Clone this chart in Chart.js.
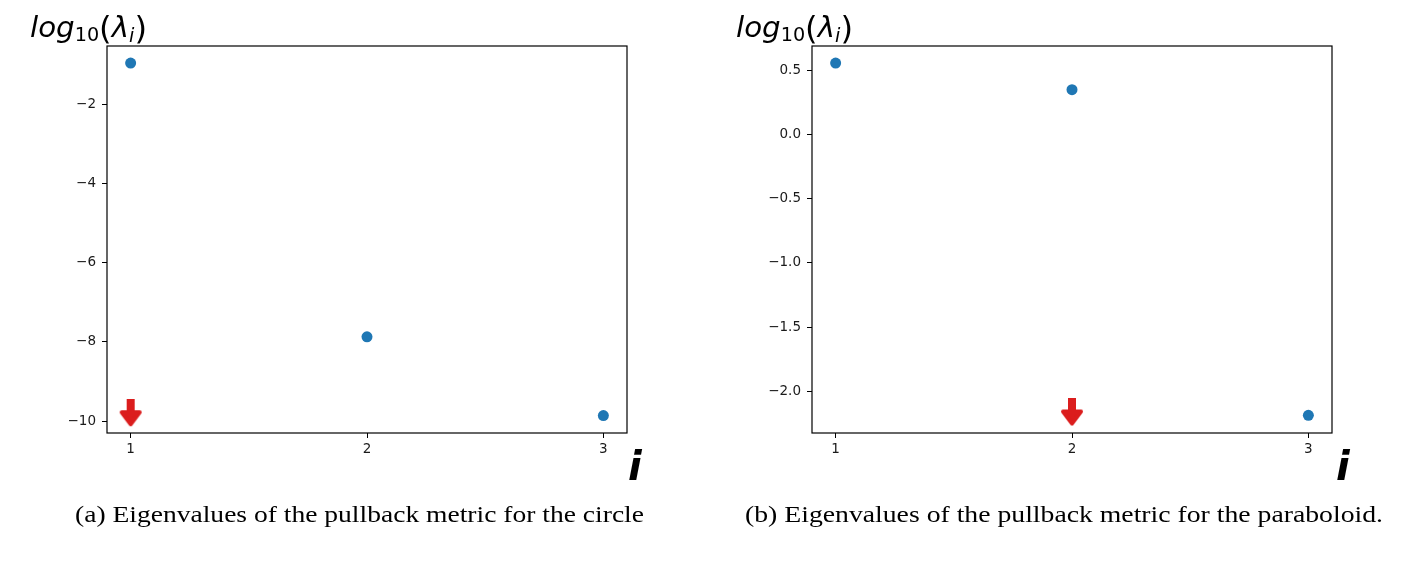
<!DOCTYPE html>
<html>
<head>
<meta charset="utf-8">
<script src="https://cdn.jsdelivr.net/npm/chart.js@4.4.1/dist/chart.umd.min.js"></script>
<style>
  body { margin: 0; background: #fff; }
  #wrap { position: relative; width: 1422px; height: 565px; }
  canvas { position: absolute; top: 0; }
</style>
</head>
<body>
<div id="wrap">
  <canvas id="circleChart" width="700" height="565" style="left:0px"></canvas>
  <canvas id="paraboloidChart" width="722" height="565" style="left:700px"></canvas>
</div>
<script>
'use strict'

// index i on the x axis
const eigIndex = [1, 2, 3]
const indexTicks = [1, 2, 3]

// (a) circle: log10 of the eigenvalues
const circleLogEig = [-0.95, -7.87, -9.86]
const circleTicks = [-10, -8, -6, -4, -2]
const circleArrowX = [1]
const circleArrowY = [-9.8]

// (b) paraboloid
const paraboloidLogEig = [0.557, 0.35, -2.187]
const paraboloidTicks = [-2.0, -1.5, -1.0, -0.5, 0.0, 0.5]
const paraboloidArrowX = [2]
const paraboloidArrowY = [-2.165]

const captionA = '(a) Eigenvalues of the pullback metric for the circle'
const captionB = '(b) Eigenvalues of the pullback metric for the paraboloid.'

const tickFont = { family: 'DejaVu Sans', size: 13.5 }

function fmtMinus(str) {
    return str.replace('-', '\u2212')
}

//red arrow used as a point style
function makeArrow() {
    let c = document.createElement('canvas')
    c.width = 24
    c.height = 28
    let g = c.getContext('2d')
    g.fillStyle = '#db1d1d'
    g.strokeStyle = '#db1d1d'
    g.fillRect(8, 0, 8, 15)
    g.lineJoin = 'round'
    g.lineWidth = 4
    g.beginPath()
    g.moveTo(3, 13)
    g.lineTo(21, 13)
    g.lineTo(12, 25)
    g.closePath()
    g.fill()
    g.stroke()
    return c
}
const arrowImg = makeArrow()

// y label log10(λi), stretched to the width seen in the figure
function drawYLabel(ctx, x, base, width) {
    let parts = [
        ['log', 'italic 29px "DejaVu Sans"', 0],
        ['10', '19px "DejaVu Sans"', 4],
        ['(', '32px "DejaVu Sans"', 2],
        ['\u03bb', 'italic 29px "DejaVu Sans"', 0],
        ['i', 'italic 19px "DejaVu Sans"', 5],
        [')', '32px "DejaVu Sans"', 2]
    ]
    let total = 0
    for (let p of parts) {
        ctx.font = p[1]
        total += ctx.measureText(p[0]).width
    }
    ctx.save()
    ctx.translate(x, base)
    ctx.scale(width / total, 1)
    ctx.fillStyle = '#000'
    ctx.textBaseline = 'alphabetic'
    let cx = 0
    for (let p of parts) {
        ctx.font = p[1]
        ctx.fillText(p[0], cx, p[2])
        cx += ctx.measureText(p[0]).width
    }
    ctx.restore()
}

function drawCaption(ctx, text, left, right, base) {
    ctx.save()
    ctx.font = '23px "Liberation Serif"'
    let w = ctx.measureText(text).width
    ctx.translate(left, base)
    ctx.scale((right - left) / w, 1)
    ctx.fillStyle = '#000'
    ctx.textBaseline = 'alphabetic'
    ctx.fillText(text, 0, 0)
    ctx.restore()
}

function makeChart(id, values, yMin, yMax, yTicks, digits, arrowX, arrowY, axisLeft, padRight, labelX, iX, caption, capLeft, capRight) {
    let ctx = document.getElementById(id).getContext('2d')

    let figText = {
        id: 'figText',
        afterDraw(chart) {
            let c = chart.ctx
            let a = chart.chartArea
            c.save()
            c.strokeStyle = '#000'
            c.lineWidth = 1.2
            c.strokeRect(a.left, a.top, a.right - a.left, a.bottom - a.top)
            c.restore()
            drawYLabel(c, labelX, 37, 117)
            c.save()
            c.font = 'italic bold 40px "DejaVu Sans"'
            c.fillStyle = '#000'
            c.fillText('i', iX, 480)
            c.restore()
            drawCaption(c, caption, capLeft, capRight, 522)
        }
    }

    return new Chart(ctx, {
        type: 'scatter',
        data: {
            datasets: [{
                label: 'log10(λi)',
                data: eigIndex.map((v, k) => ({ x: v, y: values[k] })),
                backgroundColor: '#1f77b4',
                borderWidth: 0,
                pointRadius: 5.5
            }, {
                label: 'arrow',
                data: arrowX.map((v, k) => ({ x: v, y: arrowY[k] })),
                pointStyle: arrowImg
            }]
        },
        options: {
            responsive: false,
            animation: false,
            layout: { padding: { top: 46, right: padRight, bottom: 85, left: 0 } },
            plugins: { legend: { display: false }, tooltip: { enabled: false } },
            scales: {
                x: {
                    type: 'linear',
                    min: 0.9,
                    max: 3.1,
                    afterBuildTicks: s => { s.ticks = indexTicks.map(v => ({ value: v })) },
                    afterFit: s => { s.height = 47 },
                    grid: { drawOnChartArea: false, drawTicks: true, tickLength: 5, color: '#000' },
                    border: { display: false },
                    ticks: { font: tickFont, color: '#1a1a1a', padding: 3, maxRotation: 0, callback: v => String(v) }
                },
                y: {
                    min: yMin,
                    max: yMax,
                    afterBuildTicks: s => { s.ticks = yTicks.map(v => ({ value: v })) },
                    afterFit: s => { s.width = axisLeft },
                    grid: { drawOnChartArea: false, drawTicks: true, tickLength: 5, color: '#000' },
                    border: { display: false },
                    ticks: { font: tickFont, color: '#1a1a1a', padding: 6, callback: v => fmtMinus(v.toFixed(digits)) }
                }
            }
        },
        plugins: [figText]
    })
}

let circleChart = makeChart('circleChart', circleLogEig, -10.3, -0.52, circleTicks, 0,
    circleArrowX, circleArrowY, 107, 73, 30, 628, captionA, 75, 644)

let paraboloidChart = makeChart('paraboloidChart', paraboloidLogEig, -2.325, 0.69, paraboloidTicks, 1,
    paraboloidArrowX, paraboloidArrowY, 112, 90, 36, 636, captionB, 45, 683)
</script>
</body>
</html>
